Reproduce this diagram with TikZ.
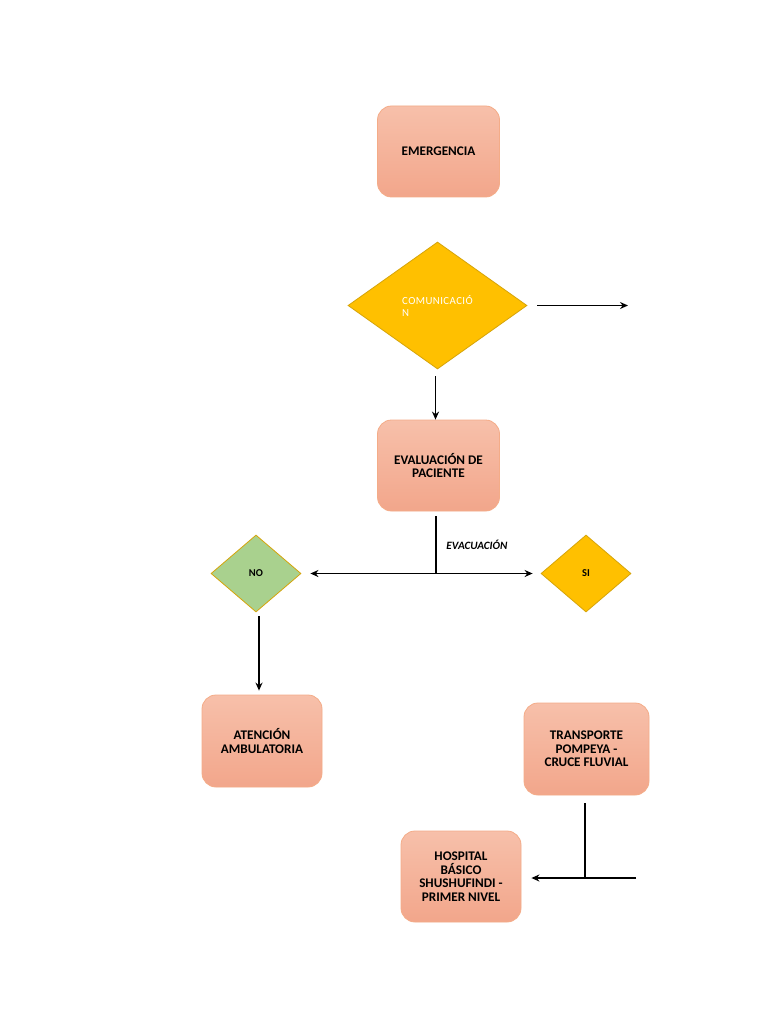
\documentclass[tikz,border=0pt]{standalone}
\usepackage{fontspec}
\setmainfont{Carlito}
\usetikzlibrary{shapes.geometric,arrows.meta}
\definecolor{boxtop}{HTML}{F7C0AA}
\definecolor{boxbot}{HTML}{F2A68B}
\definecolor{boxline}{HTML}{F4AC88}
\definecolor{gold}{HTML}{FFC000}
\definecolor{goldline}{HTML}{D6A409}
\definecolor{leaf}{HTML}{A9D18E}
\begin{document}
\begin{tikzpicture}[x=1pt,y=-1pt,
	box/.style={draw=boxline,line width=.8pt,rounded corners=14pt,top color=boxtop,bottom color=boxbot,
		minimum width=122pt,minimum height=91pt,align=center,font=\fontsize{13.2}{13.5}\selectfont\bfseries},
	decision/.style={diamond,draw=goldline,line width=.8pt,fill=gold,inner sep=0pt},
	arrow/.style={-{Stealth[length=8pt,width=7pt]},line width=1.6pt},
	link/.style={line width=1.6pt}]
	\useasboundingbox[fill=white] (0,0) rectangle (768,1024);
	\node[box] (emerg) at (438.5,151.5) {EMERGENCIA};
	\node[decision,minimum width=179pt,minimum height=127pt,text=white,align=left,
		font=\fontsize{10.8}{12}\selectfont\addfontfeature{LetterSpace=4}] (comun) at (437.5,305.5) {COMUNICACIÓ\\N};
	\node[box] (eval) at (438.5,465.5) {EVALUACIÓN DE\\PACIENTE};
	\node[decision,minimum width=90pt,minimum height=77pt,fill=leaf,font=\fontsize{10.5}{11}\selectfont\bfseries] (no) at (256,573.5) {NO};
	\node[decision,minimum width=90pt,minimum height=77pt,font=\fontsize{10.5}{11}\selectfont\bfseries] (si) at (586,573.5) {SI};
	\node[font=\fontsize{11.2}{12}\selectfont\bfseries\itshape] (evac) at (477,545) {EVACUACIÓN};
	\node[box,minimum width=120pt,minimum height=92pt] (atenc) at (262,741) {ATENCIÓN\\AMBULATORIA};
	\node[box,minimum width=125pt,minimum height=92pt] (transp) at (586.5,749) {TRANSPORTE\\POMPEYA -\\CRUCE FLUVIAL};
	\node[box,minimum width=120pt,minimum height=91pt] (hosp) at (461,876.5) {HOSPITAL\\BÁSICO\\SHUSHUFINDI -\\PRIMER NIVEL};
	\coordinate (rtend) at (628,305.5);
	\coordinate (split) at ([xshift=-2.5pt]eval.south |- no);
	\coordinate (join) at (585,878);
	\coordinate (rtstub) at (636,878);
	% connectors
	\draw[arrow,shorten <=10pt] (comun) -- (rtend);
	\draw[arrow,shorten <=7pt] ([xshift=-2pt]comun.south) -- ([xshift=-3pt]eval.north);
	\draw[link,shorten <=5pt] ([xshift=-2.5pt]eval.south) -- (split);
	\draw[arrow,shorten >=9pt] (split) -- (no);
	\draw[arrow,shorten >=8pt] (split) -- (si);
	\draw[arrow,shorten <=4pt,shorten >=4pt] ([xshift=3pt]no.south) -- ([xshift=-3pt]atenc.north);
	\draw[link,shorten <=8pt] ([xshift=-1.5pt]transp.south) -- (join);
	\draw[arrow,shorten >=10pt] (rtstub) -- (rtstub -| hosp.east);
\end{tikzpicture}
\end{document}
